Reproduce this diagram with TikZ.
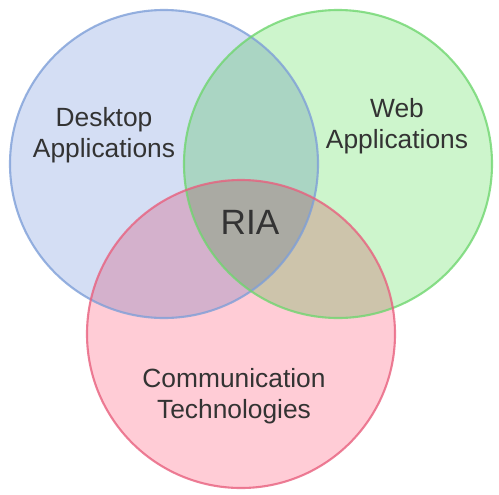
\documentclass[tikz,border=0pt]{standalone}
\usepackage{fontspec}
\setmainfont{Liberation Sans}
\definecolor{deskfill}{RGB}{212,222,244}
\definecolor{deskline}{RGB}{126,159,216}
\definecolor{webfill}{RGB}{205,245,204}
\definecolor{webline}{RGB}{111,214,111}
\definecolor{comfill}{RGB}{255,204,214}
\definecolor{comline}{RGB}{232,96,126}
\definecolor{labeltext}{RGB}{51,51,51}
\begin{document}
\begin{tikzpicture}
        [x=0.02cm, y=-0.02cm,
        set/.style={circle, minimum size=6.16cm, inner sep=0pt},
        setline/.style={line width=1.2pt, draw opacity=0.8},
        label/.style={text=labeltext, align=center, font=\fontsize{15}{18}\selectfont}]

        \useasboundingbox (0,0) rectangle (499,494);

        % the three sets
        \begin{scope}[blend group=multiply]
        \node[set, fill=deskfill] (desk) at (164,164) {};
        \node[set, fill=webfill] (web) at (338,164) {};
        \node[set, fill=comfill] (com) at (241,334) {};
        \end{scope}

        % outlines on top
        \draw[setline, deskline] (desk.center) circle (154);
        \draw[setline, webline] (web.center) circle (154);
        \draw[setline, comline] (com.center) circle (154);

        % labels
        \node[label] (desktxt) at (104,135) {Desktop\\Applications};
        \node[label] (webtxt) at (397,126) {Web\\Applications};
        \node[label] (comtxt) at (234,396) {Communication\\Technologies};
        \node[text=labeltext, font=\fontsize{20}{24}\selectfont] (ria) at (250,222) {RIA};

\end{tikzpicture}
\end{document}
